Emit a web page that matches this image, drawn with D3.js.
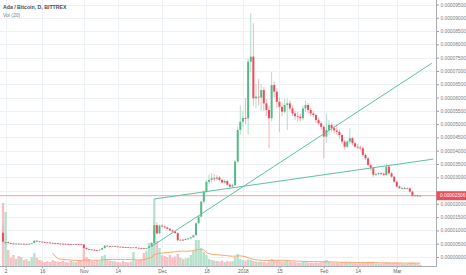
<!DOCTYPE html>
<html>
<head>
<meta charset="utf-8">
<script src="https://cdn.jsdelivr.net/npm/d3@7"></script>
<style>
  html, body { margin: 0; padding: 0; background: #fff; }
  svg { display: block; font-family: "Liberation Sans", Arial, sans-serif; }
</style>
</head>
<body>
<script>
// ADA / BTC daily candles from Bittrex, 1 Oct 2017 .. 10 Mar 2018
// prices in satoshi (1e-8 BTC), volume in millions of ADA
var firstDay = Date.UTC(2017, 9, 1)

var open = [
  915, 520, 560, 525, 510, 500, 505, 490, 500, 495,
  485, 500, 525, 610, 590, 575, 560, 550, 545, 530,
  525, 520, 505, 500, 495, 490, 485, 480, 485, 478,
  475, 470, 340, 300, 285, 270, 260, 255, 275, 330,
  425, 410, 400, 405, 395, 388, 380, 375, 370, 360,
  355, 362, 345, 338, 332, 330, 338, 400, 530, 1200,
  890, 1180, 1150, 1110, 1060, 1000, 960, 900, 630, 650,
  640, 680, 700, 740, 820, 1270, 1520, 2080, 2460, 2830,
  2900, 2960, 2940, 2990, 2900, 2800, 2860, 2720, 2650, 2700,
  3590, 4780, 5090, 5230, 5220, 7350, 7540, 5970, 6030, 6000,
  6280, 5780, 5530, 5220, 6470, 6220, 5840, 5650, 5470, 5720,
  5780, 5590, 5400, 5300, 5280, 5220, 5590, 5720, 5530, 5400,
  5340, 5150, 5030, 4900, 4530, 4780, 4970, 4850, 4760, 4710,
  4590, 4340, 4150, 4340, 4470, 4280, 4150, 4120, 4090, 3840,
  3710, 3460, 3340, 3090, 3120, 3150, 3140, 3090, 3400, 3150,
  3020, 2830, 2650, 2590, 2595, 2580, 2585, 2460, 2290, 2320,
  2290
]
var high = [
  1200, 590, 575, 545, 530, 520, 515, 510, 515, 505,
  510, 535, 640, 635, 600, 585, 575, 565, 555, 545,
  540, 530, 520, 515, 505, 505, 500, 495, 495, 490,
  490, 480, 355, 320, 300, 290, 280, 285, 345, 440,
  440, 425, 420, 415, 410, 400, 395, 390, 380, 375,
  372, 368, 355, 350, 345, 345, 420, 560, 1280, 1300,
  1220, 1230, 1190, 1150, 1100, 1040, 990, 930, 680, 690,
  700, 720, 760, 840, 1300, 1560, 2120, 2500, 2900, 3100,
  3150, 3120, 3080, 3050, 2960, 2930, 2900, 2760, 2760, 3650,
  4900, 5700, 5500, 5970, 7450, 9170, 8790, 6500, 6700, 6500,
  6400, 5950, 5700, 6970, 6600, 6350, 6000, 5800, 5950, 5970,
  5900, 5700, 5500, 5450, 5400, 5700, 5880, 5800, 5600, 5500,
  5400, 5250, 5100, 4950, 5400, 5150, 5050, 4950, 5000, 4800,
  4650, 4400, 4400, 4840, 4520, 4350, 4250, 4200, 4150, 3900,
  3760, 3520, 3380, 3180, 3200, 3190, 3180, 3520, 3450, 3200,
  3060, 2870, 2700, 2640, 2630, 2620, 2610, 2490, 2350, 2340,
  2330
]
var low = [
  540, 470, 500, 495, 480, 480, 475, 470, 480, 470,
  475, 490, 515, 570, 560, 550, 540, 530, 520, 515,
  505, 495, 490, 480, 470, 470, 465, 460, 465, 460,
  455, 320, 280, 270, 255, 245, 240, 245, 265, 320,
  395, 390, 385, 380, 375, 365, 360, 355, 345, 340,
  338, 335, 325, 320, 318, 315, 330, 390, 500, 850,
  860, 1110, 1080, 1030, 980, 930, 880, 600, 600, 610,
  620, 650, 680, 720, 800, 1240, 1490, 2000, 2400, 2750,
  2800, 2850, 2880, 2850, 2760, 2750, 2680, 2600, 2620, 2680,
  3550, 4600, 4900, 5000, 4600, 6950, 5700, 5600, 5700, 5500,
  5500, 5300, 4090, 5100, 6000, 5600, 4700, 5300, 5400, 4780,
  5500, 5300, 5150, 5100, 5100, 5150, 5450, 5400, 5300, 5250,
  5050, 4950, 4800, 3710, 4300, 4600, 4700, 4650, 4600, 4450,
  4250, 4050, 4100, 4250, 4200, 4100, 4050, 4000, 3780, 3650,
  3400, 3250, 3020, 3040, 3080, 3090, 3040, 3060, 3100, 2980,
  2800, 2620, 2560, 2550, 2550, 2540, 2420, 2270, 2260, 2250,
  2270
]
var close = [
  576, 560, 525, 510, 500, 505, 490, 500, 495, 485,
  500, 525, 610, 590, 575, 560, 550, 545, 530, 525,
  520, 505, 500, 495, 490, 485, 480, 485, 478, 475,
  470, 340, 300, 285, 270, 260, 255, 275, 330, 425,
  410, 400, 405, 395, 388, 380, 375, 370, 360, 355,
  362, 345, 338, 332, 330, 338, 400, 530, 1200, 890,
  1180, 1150, 1110, 1060, 1000, 960, 900, 630, 650, 640,
  680, 700, 740, 820, 1270, 1520, 2080, 2460, 2830, 2900,
  2960, 2940, 2990, 2900, 2800, 2860, 2720, 2650, 2700, 3590,
  4780, 5090, 5230, 5220, 7350, 7540, 5970, 6030, 6000, 6280,
  5780, 5530, 5220, 6470, 6220, 5840, 5650, 5470, 5720, 5780,
  5590, 5400, 5300, 5280, 5220, 5590, 5720, 5530, 5400, 5340,
  5150, 5030, 4900, 4530, 4780, 4970, 4850, 4760, 4710, 4590,
  4340, 4150, 4340, 4470, 4280, 4150, 4120, 4090, 3840, 3710,
  3460, 3340, 3090, 3120, 3150, 3140, 3090, 3400, 3150, 3020,
  2830, 2650, 2590, 2595, 2580, 2585, 2460, 2300, 2320, 2290,
  2306
]
var volume = [
  630, 540, 160, 80, 110, 70, 100, 90, 60, 70,
  50, 90, 130, 80, 60, 50, 40, 50, 40, 60,
  50, 45, 40, 55, 40, 35, 50, 45, 40, 60,
  55, 190, 90, 70, 50, 45, 60, 50, 100, 110,
  70, 55, 50, 45, 40, 35, 50, 40, 35, 45,
  140, 55, 60, 70, 130, 150, 230, 200, 670, 250,
  180, 110, 100, 90, 110, 85, 95, 120, 80, 70,
  75, 80, 110, 150, 260, 260, 180, 140, 110, 70,
  60, 55, 50, 45, 55, 40, 50, 45, 50, 90,
  120, 70, 60, 55, 65, 60, 50, 45, 40, 45,
  40, 35, 45, 70, 55, 50, 55, 45, 50, 60,
  45, 40, 38, 35, 33, 42, 40, 35, 32, 30,
  34, 32, 35, 50, 60, 42, 36, 33, 32, 30,
  34, 36, 33, 40, 30, 28, 27, 28, 34, 31,
  35, 30, 38, 26, 24, 22, 25, 38, 30, 28,
  32, 33, 27, 24, 22, 24, 30, 34, 28, 25,
  14
]

var priceTicks = [0, 500, 1000, 1500, 2000, 2500, 3000, 3500, 4000, 4500,
  5000, 5500, 6000, 6500, 7000, 7500, 8000, 8500, 9000, 9500]

var timeTicks = [
  Date.UTC(2017, 9, 2), Date.UTC(2017, 9, 16), Date.UTC(2017, 10, 1),
  Date.UTC(2017, 10, 14), Date.UTC(2017, 11, 1), Date.UTC(2017, 11, 18),
  Date.UTC(2018, 0, 1), Date.UTC(2018, 0, 15), Date.UTC(2018, 1, 1),
  Date.UTC(2018, 1, 14), Date.UTC(2018, 2, 1)
]
var timeTickLabels = ['2', '16', 'Nov', '14', 'Dec', '18', '2018', '15', 'Feb', '14', 'Mar']

// the two hand drawn trend lines, as [date, price] end points
var trendLines = [
  [[Date.UTC(2017, 10, 28), 2182], [Date.UTC(2018, 2, 15), 3683]],
  [[Date.UTC(2017, 10, 27), 400], [Date.UTC(2018, 2, 14, 10), 7288]]
]

var width = 466,
    height = 275,
    plotW = 436,
    plotH = 266

var upColor = '#53b987',
    downColor = '#eb4d5c'

var dates = close.map((c, i) => new Date(firstDay + i * 864e5))
var last = close.length - 1

var svg = d3.select('body')
    .append('svg')
    .attr('width', width)
    .attr('height', height)

svg.append('rect')
    .attr('width', width)
    .attr('height', height)
    .attr('fill', '#fff')

svg.append('clipPath')
    .attr('id', 'plot')
    .append('rect')
    .attr('width', plotW)
    .attr('height', plotH)

var xScale = d3.scaleUtc()
    .domain([Date.UTC(2017, 8, 29, 20), Date.UTC(2018, 2, 16, 1)])
    .range([0, plotW])

var yScale = d3.scaleLinear()
    .domain([0, 9500])
    .range([257, 4.5])

var volScale = d3.scaleLinear()
    .domain([0, d3.max(volume)])
    .range([plotH, 199])

var g = svg.append('g').attr('clip-path', 'url(#plot)')

// grid
g.selectAll('.hgrid')
    .data(priceTicks)
    .join('line')
    .attr('x1', 0)
    .attr('x2', plotW)
    .attr('y1', d => Math.round(yScale(d)) + 0.5)
    .attr('y2', d => Math.round(yScale(d)) + 0.5)
    .attr('stroke', '#eef2f7')

g.selectAll('.vgrid')
    .data(timeTicks)
    .join('line')
    .attr('x1', d => Math.round(xScale(d)) + 0.5)
    .attr('x2', d => Math.round(xScale(d)) + 0.5)
    .attr('y1', 0)
    .attr('y2', plotH)
    .attr('stroke', '#eef2f7')

// volume
g.selectAll('.vol')
    .data(volume)
    .join('rect')
    .attr('x', (d, i) => xScale(dates[i]) - 1.2)
    .attr('width', 2.4)
    .attr('y', d => volScale(d))
    .attr('height', d => plotH - volScale(d))
    .attr('fill', (d, i) => close[i] >= open[i] ? '#b7e1cc' : '#f8bfc4')

// 20 day average of the volume
var volMa = volume.map((v, i) => i < 19 ? null : d3.mean(volume.slice(i - 19, i + 1)))

var maLine = d3.line()
    .defined(d => d != null)
    .x((d, i) => xScale(dates[i]))
    .y(d => volScale(d))

g.append('path')
    .attr('d', maLine(volMa))
    .attr('fill', 'none')
    .attr('stroke', '#f6a56c')
    .attr('stroke-width', 1)

// last price line
g.append('line')
    .attr('x1', 0)
    .attr('x2', plotW)
    .attr('y1', yScale(close[last]))
    .attr('y2', yScale(close[last]))
    .attr('stroke', '#f4a0a7')
    .attr('stroke-width', 1)

// candles
var candle = g.selectAll('.candle')
    .data(close)
    .join('g')

candle.append('line')
    .attr('x1', (d, i) => xScale(dates[i]))
    .attr('x2', (d, i) => xScale(dates[i]))
    .attr('y1', (d, i) => yScale(high[i]))
    .attr('y2', (d, i) => yScale(low[i]))
    .attr('stroke', (d, i) => close[i] >= open[i] ? '#a8d9c0' : '#f5aab1')
    .attr('stroke-width', 0.9)

candle.append('rect')
    .attr('x', (d, i) => xScale(dates[i]) - 1)
    .attr('width', 2)
    .attr('y', (d, i) => yScale(Math.max(open[i], close[i])))
    .attr('height', (d, i) => Math.max(0.8, Math.abs(yScale(open[i]) - yScale(close[i]))))
    .attr('fill', (d, i) => close[i] >= open[i] ? upColor : downColor)

// trend lines
g.selectAll('.trend')
    .data(trendLines)
    .join('line')
    .attr('x1', d => xScale(d[0][0]))
    .attr('y1', d => yScale(d[0][1]))
    .attr('x2', d => xScale(d[1][0]))
    .attr('y2', d => yScale(d[1][1]))
    .attr('stroke', '#5cc2a2')
    .attr('stroke-width', 1)

// right price axis
var fmt = v => (v * 1e-8).toFixed(8)
var lastY = yScale(close[last])

var yAxis = d3.axisRight(yScale)
    .tickValues(priceTicks.filter(t => Math.abs(yScale(t) - lastY) > 7))
    .tickFormat(fmt)
    .tickSize(2.5)
    .tickPadding(1.5)

var ya = svg.append('g')
    .attr('transform', `translate(${plotW + 0.5}, 0)`)
    .call(yAxis)
ya.select('.domain').remove()
ya.selectAll('line').attr('stroke', '#9a9ea6')
ya.selectAll('text')
    .attr('font-size', 4.8)
    .attr('fill', '#7a7d84')
    .attr('font-family', '"Liberation Sans", Arial, sans-serif')

svg.append('line')
    .attr('x1', plotW + 0.5)
    .attr('x2', plotW + 0.5)
    .attr('y1', 0)
    .attr('y2', plotH + 1)
    .attr('stroke', '#a9acb3')

// current price label
svg.append('rect')
    .attr('x', plotW + 0.5)
    .attr('y', lastY - 4.5)
    .attr('width', width - plotW)
    .attr('height', 9)
    .attr('fill', '#ea4f5b')

svg.append('text')
    .attr('x', plotW + 4)
    .attr('y', lastY)
    .attr('dy', '0.35em')
    .attr('font-size', 4.8)
    .attr('fill', '#fff')
    .text(fmt(close[last]))

// bottom time axis
var xAxis = d3.axisBottom(xScale)
    .tickValues(timeTicks)
    .tickFormat((d, i) => timeTickLabels[i])
    .tickSize(2)
    .tickPadding(1)

var xa = svg.append('g')
    .attr('transform', `translate(0, ${plotH + 0.5})`)
    .call(xAxis)
xa.select('.domain').remove()
xa.selectAll('line').attr('stroke', '#9a9ea6')
xa.selectAll('text')
    .attr('font-size', 4.8)
    .attr('fill', '#5d6068')
    .attr('font-family', '"Liberation Sans", Arial, sans-serif')

svg.append('line')
    .attr('x1', 0)
    .attr('x2', plotW + 1)
    .attr('y1', plotH + 0.5)
    .attr('y2', plotH + 0.5)
    .attr('stroke', '#a9acb3')

// legend
svg.append('text')
    .attr('x', 3)
    .attr('y', 9)
    .attr('font-size', 5.2)
    .attr('font-weight', 'bold')
    .attr('fill', '#4a4d55')
    .text('Ada / Bitcoin, D, BITTREX')

svg.append('text')
    .attr('x', 3)
    .attr('y', 17)
    .attr('font-size', 5)
    .attr('fill', '#7a7d84')
    .text('Vol (20)')
</script>
</body>
</html>
